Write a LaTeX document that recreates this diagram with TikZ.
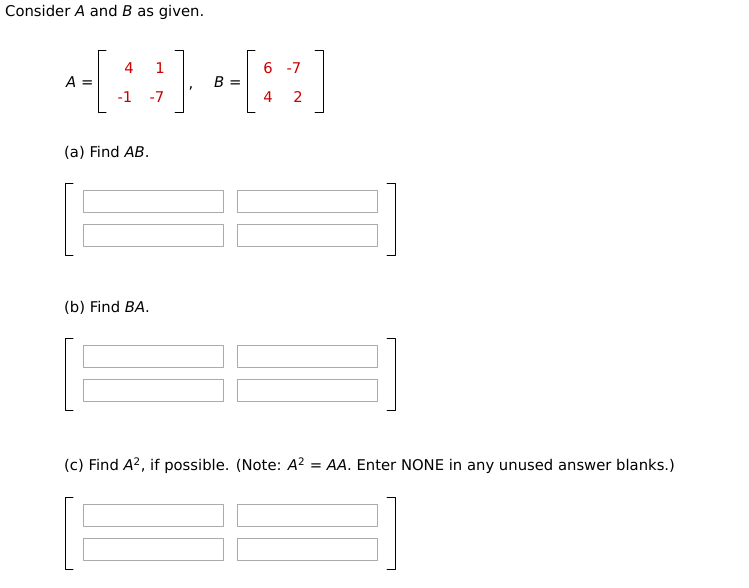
\documentclass[tikz,border=0pt]{standalone}
\usepackage{fontspec}
\setmainfont{DejaVu Sans}
\usetikzlibrary{positioning}
\definecolor{entryred}{RGB}{204,0,0}
\definecolor{boxgray}{RGB}{170,170,170}

\begin{document}
\begin{tikzpicture}[x=1pt,y=-1pt,line cap=round,line join=round, every node/.style={font=\fontsize{14.8}{17}\selectfont, inner sep=0pt}]
\useasboundingbox (0,0) rectangle (749,587);
% Styles
\tikzset{entry/.style={text=entryred}, bracket/.style={line width=1pt}, answer/.style={draw=boxgray, line width=1pt}}

% Title
\node [anchor=west] (title) at (5,12) {Consider \textit{A} and \textit{B} as given.};

% Matrix A
\node [anchor=west] (Alab) at (66,82) {\textit{A} =};
\draw [bracket] (106,50) -- (98,50) -- (98,112) -- (106,112);
\draw [bracket] (175,50) -- (183,50) -- (183,112) -- (175,112);
\node [entry] (a11) at (129,68) {4};
\node [entry] (a12) at (160,68) {1};
\node [entry] (a21) at (125,97) {-1};
\node [entry] (a22) at (157,97) {-7};
\node (comma) at (191,88) {,};

% Matrix B
\node [anchor=west] (Blab) at (214,82) {\textit{B} =};
\draw [bracket] (255,50) -- (247,50) -- (247,112) -- (255,112);
\draw [bracket] (315,50) -- (323,50) -- (323,112) -- (315,112);
\node [entry] (b11) at (268,68) {6};
\node [entry] (b12) at (294,68) {-7};
\node [entry] (b21) at (268,97) {4};
\node [entry] (b22) at (298,97) {2};

% Part labels
\node [anchor=west] (pa) at (64,153) {(a) Find \textit{AB}.};
\node [anchor=west] (pb) at (64,308) {(b) Find \textit{BA}.};
\node [anchor=west] (pc) at (64,466) {(c) Find \textit{A}\textsuperscript{2}, if possible. (Note: \textit{A}\textsuperscript{2} = \textit{AA}. Enter NONE in any unused answer blanks.)};

% Answer blanks
\foreach \y in {183,338,497} {
  \draw [bracket] (73,\y) -- (65,\y) -- (65,\y+72) -- (73,\y+72);
  \draw [bracket] (387,\y) -- (395,\y) -- (395,\y+72) -- (387,\y+72);
  \foreach \x in {83,237} {
    \draw [answer] (\x,\y+7) rectangle (\x+140,\y+29);
    \draw [answer] (\x,\y+41) rectangle (\x+140,\y+63);
  }
}
\end{tikzpicture}
\end{document}
